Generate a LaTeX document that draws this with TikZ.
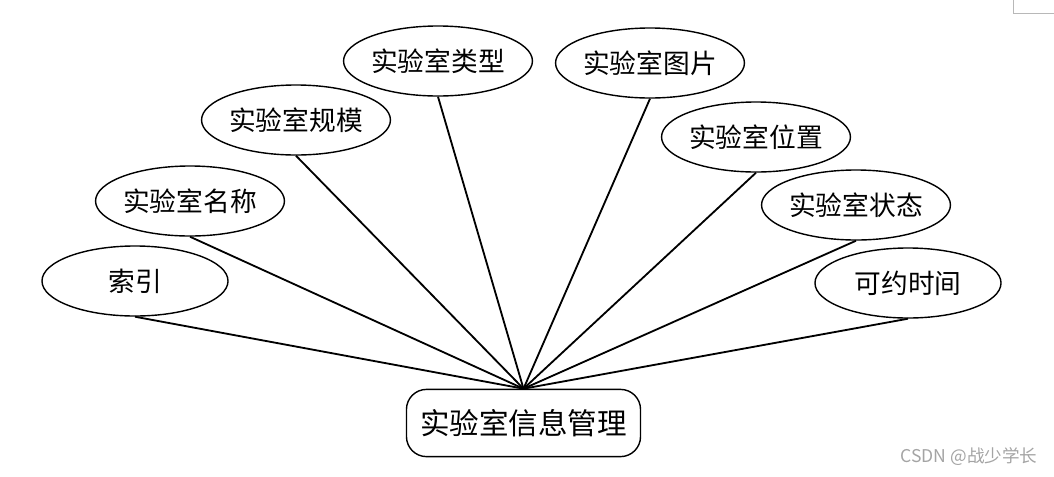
\documentclass[tikz,border=0pt]{standalone}
\usepackage{fontspec}
\usepackage{tikz}
\usetikzlibrary{shapes.geometric}
\newfontfamily\cjk{Noto Sans CJK SC}
\definecolor{marktext}{HTML}{9A9A9A}

\begin{document}
\begin{tikzpicture}[x=0.025cm, y=-0.025cm,
  attr/.style={ellipse, draw=black, line width=1pt, minimum width=4.65cm, minimum height=1.75cm, inner sep=0pt, font=\cjk\fontsize{19}{21}\selectfont},
  entity/.style={rectangle, rounded corners=0.5cm, draw=black, line width=1pt, minimum width=5.85cm, minimum height=1.68cm, inner sep=0pt, font=\cjk\fontsize{21}{23}\selectfont},
  link/.style={line width=1.3pt, color=black},
]
  \useasboundingbox (0,0) rectangle (1054,476);
  \node[entity] (mgmt) at (523.5,423) {实验室信息管理};
  \node[attr] (idx) at (135,281) {索引};
  \node[attr] (lname) at (190,201) {实验室名称};
  \node[attr] (lsize) at (296,120) {实验室规模};
  \node[attr] (ltype) at (438,61) {实验室类型};
  \node[attr] (lpic) at (650,63) {实验室图片};
  \node[attr] (lpos) at (756,137) {实验室位置};
  \node[attr] (lstate) at (856,205) {实验室状态};
  \node[attr] (ltime) at (908,283) {可约时间};
  \draw[link] (idx.south) -- (mgmt.north);
  \draw[link] (lname.south) -- (mgmt.north);
  \draw[link] (lsize.south) -- (mgmt.north);
  \draw[link] (ltype.south) -- (mgmt.north);
  \draw[link] (lpic.south) -- (mgmt.north);
  \draw[link] (lpos.south) -- (mgmt.north);
  \draw[link] (lstate.south) -- (mgmt.north);
  \draw[link] (ltime.south) -- (mgmt.north);
  % page corner mark and watermark
  \draw[marktext!70, line width=0.6pt] (1013,0) -- (1013,13) -- (1054,13);
  \node[text=marktext!90, font=\cjk\fontsize{12.5}{14}\selectfont, inner sep=0pt] (wm) at (969,457) {CSDN @战少学长};
\end{tikzpicture}
\end{document}
